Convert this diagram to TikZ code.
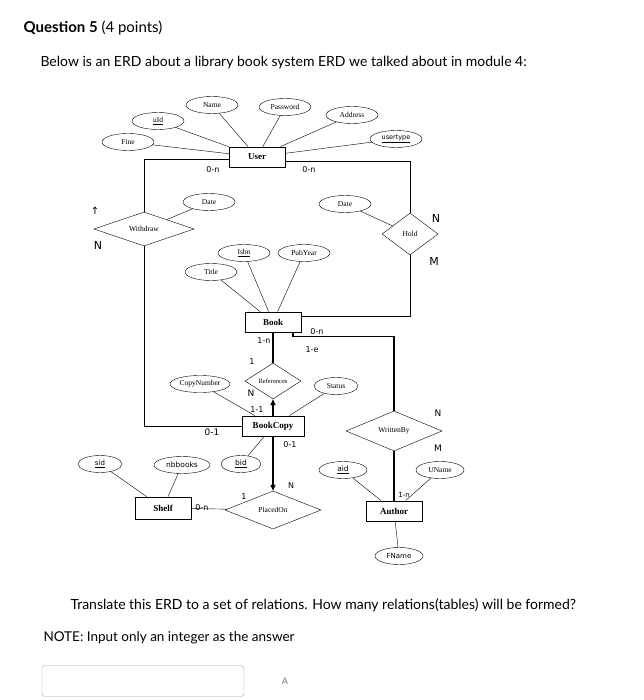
\documentclass[tikz,border=0pt]{standalone}
\usepackage{fontspec}
\setmainfont{Liberation Serif}
\newfontfamily\qfont{Lato}
\newfontfamily\hand{DejaVu Sans}
\usetikzlibrary{shapes.geometric,arrows.meta}
\begin{document}
\begin{tikzpicture}[x=1pt,y=-1pt,
  ent/.style={draw,thick,minimum width=56pt,minimum height=20pt,inner sep=1pt,font=\fontsize{9}{10}\selectfont\bfseries},
  att/.style={draw,ellipse,minimum width=52pt,minimum height=17pt,inner sep=0pt,font=\fontsize{7.5}{8}\selectfont},
  rel/.style={draw,diamond,aspect=2.6,inner sep=0pt,font=\fontsize{7.5}{8}\selectfont},
  lab/.style={font=\hand\fontsize{8}{9}\selectfont,inner sep=0pt},
  thk/.style={line width=1.6pt}]
\useasboundingbox[fill=white] (0,0) rectangle (643,700);
\node[anchor=west,font=\qfont\fontsize{15}{17}\selectfont] (q) at (20,28) {\textbf{Question 5} (4 points)};
\node[anchor=west,font=\qfont\fontsize{14}{16}\selectfont] (b) at (37,63) {Below is an ERD about a library book system ERD we talked about in module 4:};
% attributes of User
\node[ent] (user) at (257,157) {User};
\node[att] (name) at (212,105) {Name};
\node[att] (pwd) at (285,107) {Password};
\node[att] (uid) at (158,121) {\underline{uId}};
\node[att] (addr) at (352,115) {Address};
\node[att] (fine) at (128,142) {Fine};
\node[att,font=\hand\fontsize{6.5}{7}\selectfont] (utype) at (396,139) {\underline{usertype}};
\foreach \a in {name,pwd,uid,addr,fine,utype} \draw (\a) -- (user);
% Withdraw
\node[rel,minimum width=100pt,minimum height=34pt] (wd) at (144,229) {Withdraw};
\node[att] (wdate) at (209,202) {Date};
\draw (wdate) -- (wd);
% Hold
\node[rel,minimum width=56pt,minimum height=42pt,aspect=1.3] (hold) at (410,234) {Hold};
\node[att] (hdate) at (345,204) {Date};
\draw (hdate) -- (hold);
% Book
\node[ent] (book) at (273,322) {Book};
\node[att] (title) at (211,272) {Title};
\node[att] (isbn) at (244,253) {\underline{Isbn}};
\node[att] (pub) at (304,253) {PubYear};
\foreach \a in {title,isbn,pub} \draw (\a) -- (book);
% References
\node[rel,minimum width=56pt,minimum height=36pt,aspect=1.6] (ref) at (273,381) {\fontsize{6.5}{7}\selectfont References};
\node[ent,minimum width=62pt] (bc) at (273,426) {BookCopy};
\node[att,minimum width=60pt] (cn) at (200,384) {CopyNumber};
\node[att,minimum width=44pt] (status) at (336,386) {Status};
\node[att,minimum width=40pt,font=\hand\fontsize{7.5}{8}\selectfont] (bid) at (241,464) {\underline{bid}};
\foreach \a in {cn,status,bid} \draw (\a) -- (bc);
\draw[thk] (book) -- (ref);
\draw[thk,-{Triangle[length=6pt,width=5pt]}] (bc) -- (ref);
% Shelf, PlacedOn
\node[rel,minimum width=96pt,minimum height=38pt] (po) at (273,510) {PlacedOn};
\node[ent,minimum height=22pt] (shelf) at (163,508) {Shelf};
\node[att,minimum width=44pt,font=\hand\fontsize{7}{8}\selectfont] (sid) at (100,464) {\underline{sid}};
\node[att,minimum width=56pt,font=\hand\fontsize{7.5}{8}\selectfont] (nb) at (182,465) {nbbooks};
\draw (sid) -- (shelf); \draw (nb) -- (shelf);
\draw (shelf) -- (po);
\draw[thk,-{Triangle[length=6pt,width=5pt]}] (bc) -- (po);
% WrittenBy, Author
\node[rel,minimum width=96pt,minimum height=40pt] (wb) at (394,431) {WrittenBy};
\node[ent] (author) at (394,511) {Author};
\node[att,minimum width=48pt,font=\hand\fontsize{7.5}{8}\selectfont] (aid) at (343,470) {\underline{aid}};
\node[att,minimum width=48pt] (un) at (440,470) {UName};
\node[att,minimum width=48pt,font=\hand\fontsize{7}{8}\selectfont] (fn) at (399,556) {FName};
\foreach \a in {aid,un,fn} \draw (\a) -- (author);
\draw[thk] (wb) -- (author);
\draw[thk] ([xshift=20pt]book.south) |- ++(0,4) -| (wb.north);
% long connectors
\draw (user.west) ++(0,2) -| (wd.north);
\draw (wd.south) |- (bc.west);
\draw (user.east) ++(0,4) -| (hold.north);
\draw (hold.south) |- ([yshift=6pt]book.east);
% cardinality labels
\node[lab] (l1) at (213,170) {0-n};
\node[lab] (l2) at (309,170) {0-n};
\node[lab,font=\hand\fontsize{10}{11}\selectfont] (l3) at (95,211) {↑};
\node[lab,font=\hand\fontsize{11}{12}\selectfont] (l4) at (98,245) {N};
\node[lab,font=\hand\fontsize{11}{12}\selectfont] (l5) at (436,218) {N};
\node[lab,font=\hand\fontsize{11}{12}\selectfont] (l6) at (434,261) {M};
\node[lab] (l7) at (317,332) {0-n};
\node[lab] (l8) at (264,341) {1-n};
\node[lab] (l9) at (312,350) {1-e};
\node[lab] (l10) at (252,362) {1};
\node[lab,font=\hand\fontsize{9}{10}\selectfont] (l11) at (251,393) {N};
\node[lab] (l12) at (257,410) {1-1};
\node[lab,font=\hand\fontsize{9}{10}\selectfont] (l13) at (212,432) {0-1};
\node[lab] (l14) at (290,445) {0-1};
\node[lab] (l15) at (291,486) {N};
\node[lab] (l16) at (244,497) {1};
\node[lab] (l17) at (202,508) {0-n};
\node[lab,font=\hand\fontsize{9}{10}\selectfont] (l18) at (438,413) {N};
\node[lab,font=\hand\fontsize{9}{10}\selectfont] (l19) at (438,448) {M};
\node[lab,font=\hand\fontsize{7}{8}\selectfont] (l20) at (404,495) {1-n};
% bottom text
\node[anchor=west,font=\qfont\fontsize{14}{16}\selectfont] (t1) at (67,605) {Translate this ERD to a set of relations. How many relations(tables) will be formed?};
\node[anchor=west,font=\qfont\fontsize{13.5}{16}\selectfont] (t2) at (40,638) {NOTE: Input only an integer as the answer};
\node[draw=gray!70,rounded corners=3pt,minimum width=202pt,minimum height=31pt] (box) at (143,681) {};
\node[font=\hand\fontsize{9}{10}\selectfont,gray] (ic) at (285,681) {A};
\end{tikzpicture}
\end{document}
